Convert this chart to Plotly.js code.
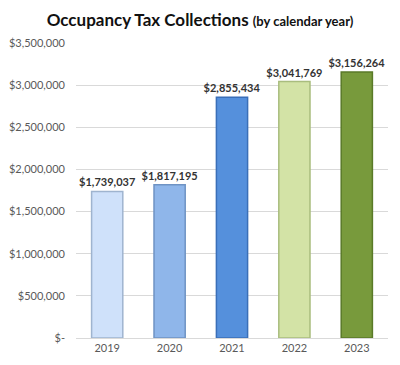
<!DOCTYPE html>
<html><head><meta charset="utf-8">
<script src="https://cdn.plot.ly/plotly-3.0.1.min.js"></script>
<style>body{margin:0;background:#fff}#c{width:400px;height:365px}</style>
</head><body><div id="c"></div>
<script>
const years = ['2019','2020','2021','2022','2023'];
const collections = [1739037, 1817195, 2855434, 3041769, 3156264];
const barColors = ['#cfe1fa','#8fb6ea','#5590dc','#d3e3a6','#789a3c'];
const edgeColors = ['#9fb4cf','#6f93c4','#3a6fb8','#a9bd7e','#5a7a28'];
const tickVals = [0,500000,1000000,1500000,2000000,2500000,3000000,3500000];
const tickText = ['$-','$500,000','$1,000,000','$1,500,000','$2,000,000','$2,500,000','$3,000,000','$3,500,000'];

const fmt = v => '$' + v.toLocaleString('en-US');

const data = [{
  type:'bar', x: years, y: collections,
  marker:{color: barColors, line:{color: edgeColors, width:1.5}},
  text: collections.map(fmt), textposition:'outside', constraintext:'none',
  textfont:{family:'Lato, sans-serif', size:11, color:'#333'},
  texttemplate:'<b>%{text}</b>', cliponaxis:false, hoverinfo:'none'
}];
const layout = {
  width:400, height:365,
  margin:{l:76, r:12, t:43, b:27},
  paper_bgcolor:'#fff', plot_bgcolor:'#fff',
  bargap:0.5,
  showlegend:false,
  title:{text:'<b>Occupancy Tax Collections <span style="font-size:13px">(by calendar year)</span></b>',
    x:0.5, xanchor:'center', y:0.945, yanchor:'middle',
    font:{family:'Lato, sans-serif', size:17, color:'#111'}},
  xaxis:{type:'category', showline:true, linecolor:'#d9d9d9', linewidth:1, ticks:'',
    tickfont:{family:'Lato, sans-serif', size:11, color:'#595959'}},
  yaxis:{range:[0,3500000], tickvals:tickVals, ticktext:tickText,
    showgrid:true, gridcolor:'#d9d9d9', gridwidth:1, zeroline:false,
    ticks:'', ticklen:0, ticklabelstandoff:10,
    tickfont:{family:'Lato, sans-serif', size:11, color:'#595959'}}
};
Plotly.newPlot('c', data, layout, {displayModeBar:false, staticPlot:true});
</script></body></html>
